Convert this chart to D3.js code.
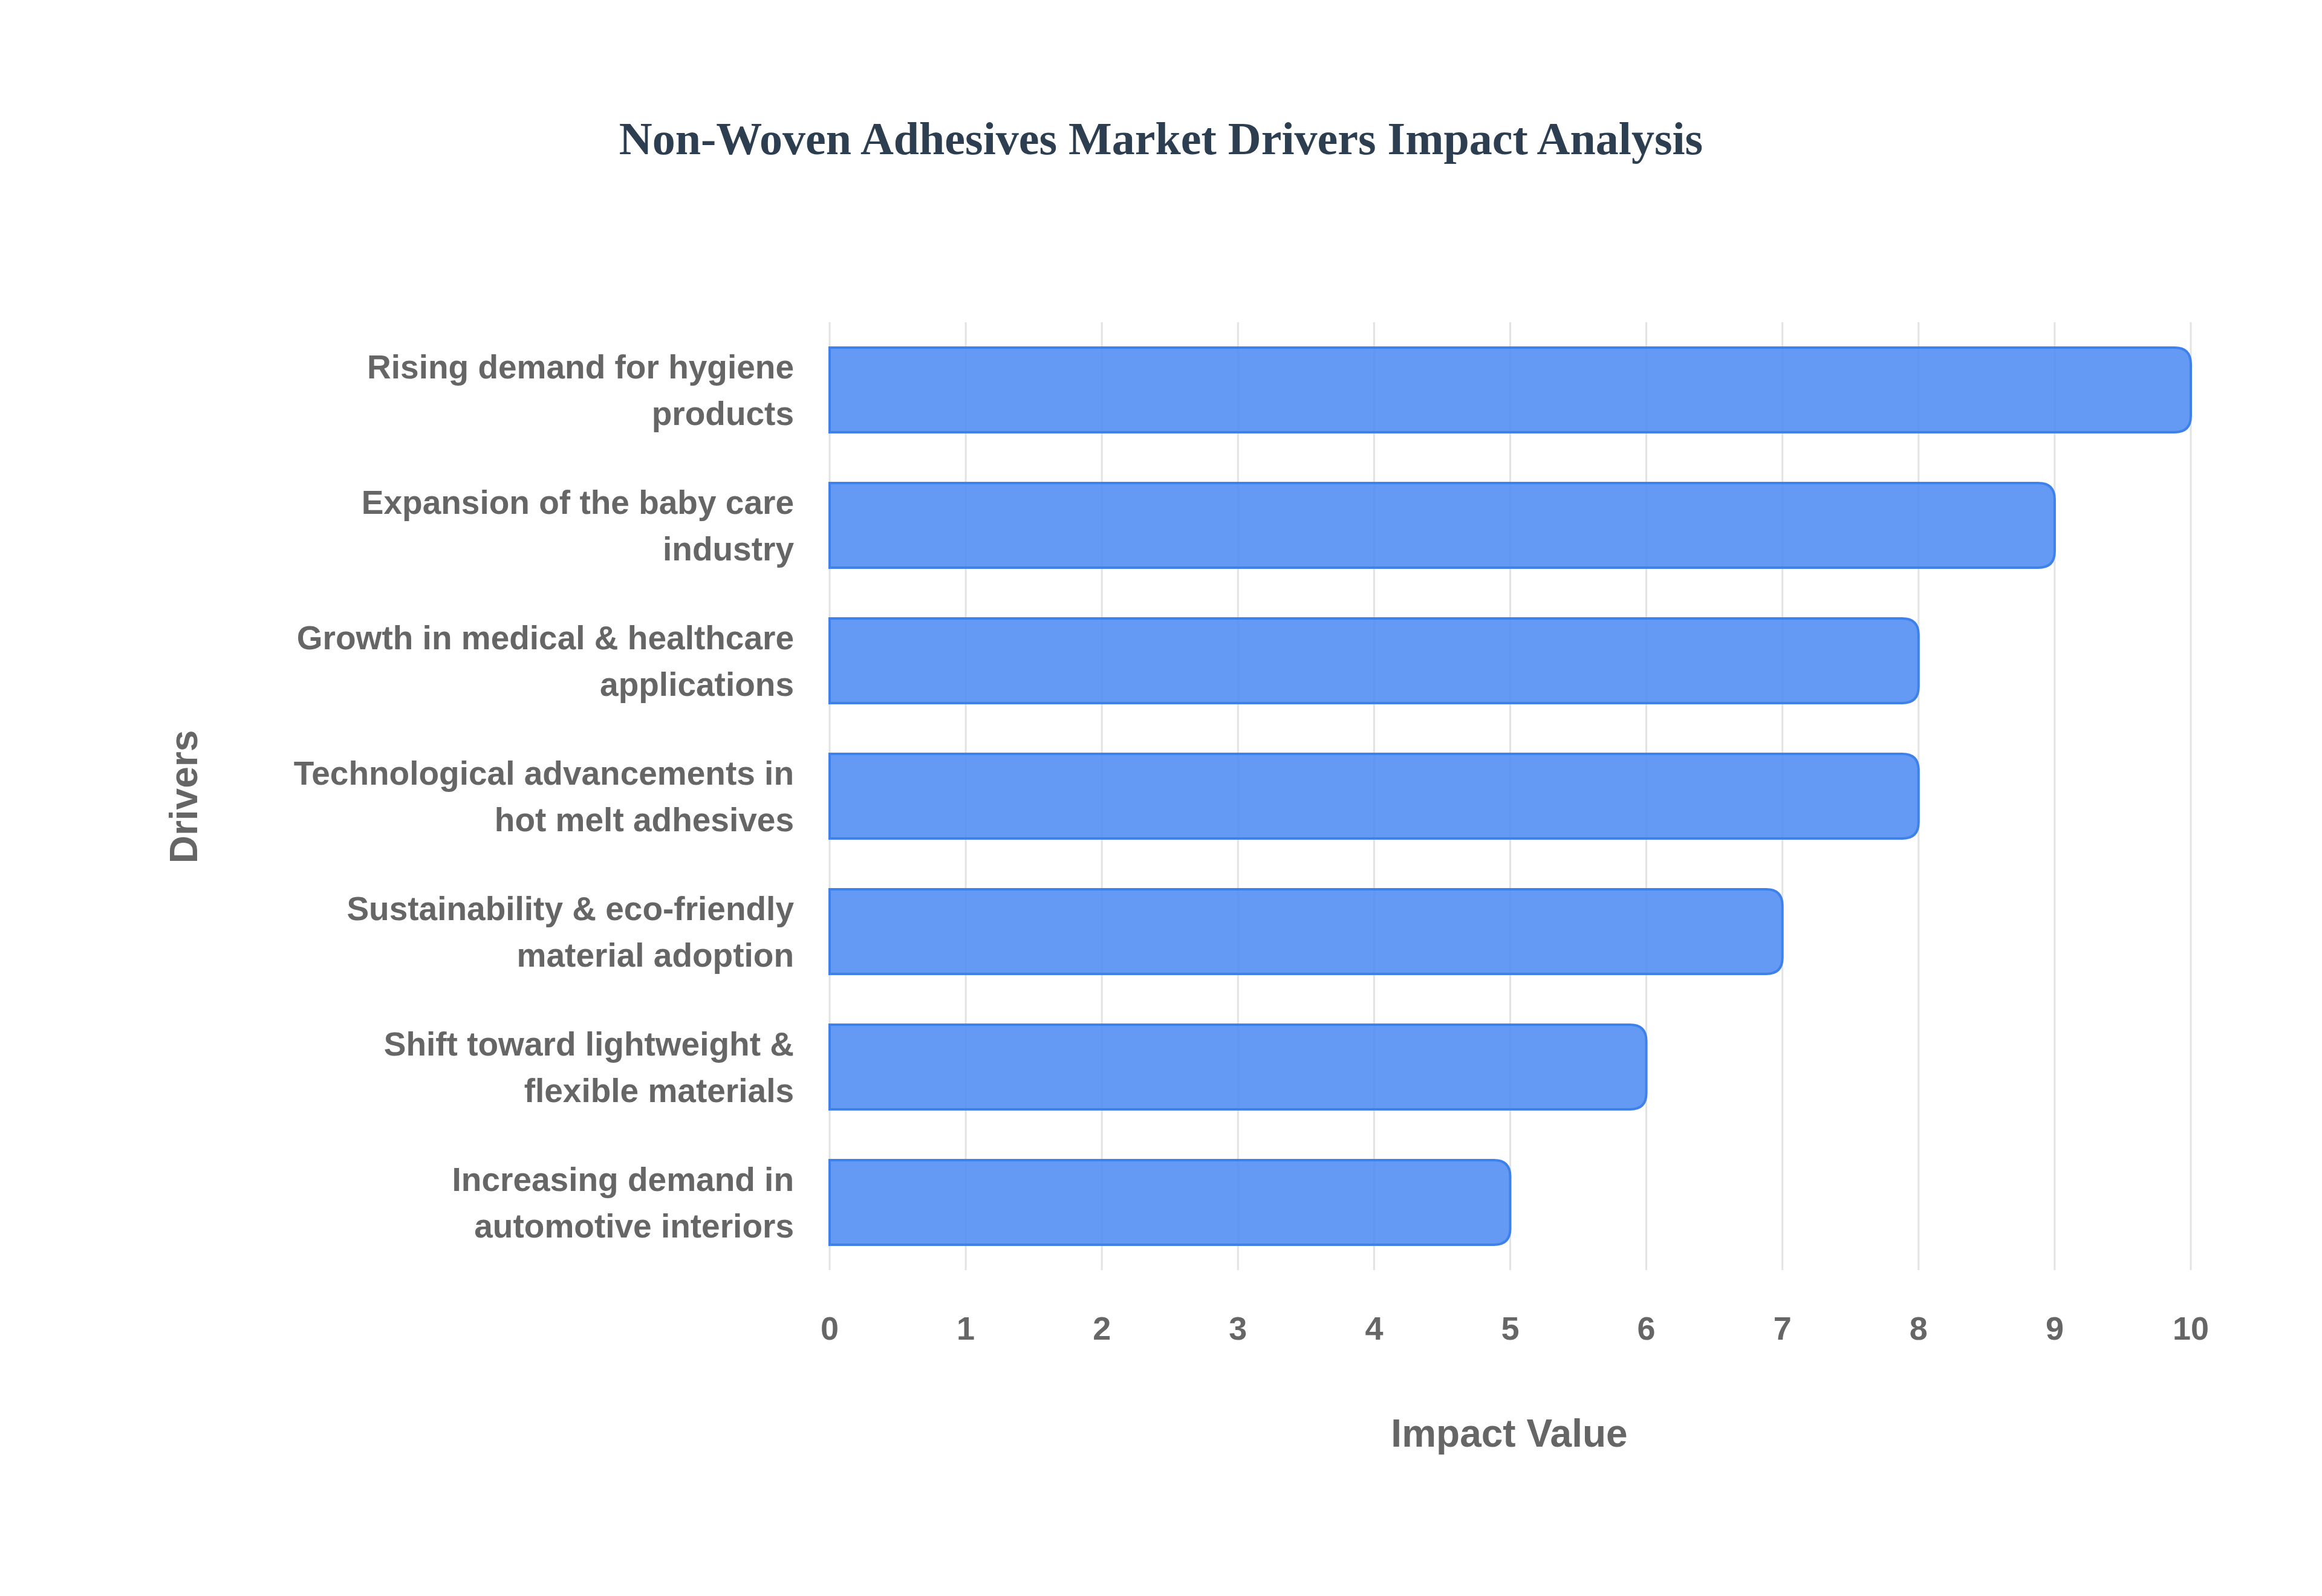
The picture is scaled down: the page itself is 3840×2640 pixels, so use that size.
<!DOCTYPE html>
<html><head><meta charset="utf-8">
<script src="https://cdn.jsdelivr.net/npm/d3@7"></script>
<style>body{margin:0;background:#fff}</style></head>
<body><svg id="c" width="3840" height="2640"></svg>
<script>
const drivers = [
  ["Rising demand for hygiene","products"],
  ["Expansion of the baby care","industry"],
  ["Growth in medical & healthcare","applications"],
  ["Technological advancements in","hot melt adhesives"],
  ["Sustainability & eco-friendly","material adoption"],
  ["Shift toward lightweight &","flexible materials"],
  ["Increasing demand in","automotive interiors"]
];
const values = [10, 9, 8, 8, 7, 6, 5];
const xTicks = [0,1,2,3,4,5,6,7,8,9,10];

const svg = d3.select("#c");
const L = 1372, R = 3623, T = 533, B = 2101;
const x = d3.scaleLinear().domain([0,10]).range([L,R]);
const y = d3.scaleBand().domain(d3.range(drivers.length)).range([T,B]).paddingInner(0.375).paddingOuter(0.1875);

svg.append("g").selectAll("line").data(xTicks).join("line")
  .attr("x1",d=>x(d)).attr("x2",d=>x(d)).attr("y1",T).attr("y2",B)
  .attr("stroke","#e3e3e3").attr("stroke-width",3);

const r = 27;
svg.append("g").selectAll("path").data(values).join("path")
  .attr("d",(v,i)=>{
    const x0=x(0), x1=x(v), y0=y(i), h=y.bandwidth();
    return `M${x0},${y0}H${x1-r}Q${x1},${y0} ${x1},${y0+r}V${y0+h-r}Q${x1},${y0+h} ${x1-r},${y0+h}H${x0}Z`;
  })
  .attr("fill","rgba(80,140,242,0.88)").attr("stroke","#3f81ea").attr("stroke-width",4);

const lab = svg.append("g").attr("font-family","Liberation Sans, Arial, sans-serif")
  .attr("font-weight","bold").attr("font-size",55).attr("fill","#666").attr("text-anchor","end");
drivers.forEach((d,i)=>{
  const cy = y(i)+y.bandwidth()/2;
  d.forEach((t,j)=>lab.append("text").attr("x",1313).attr("y",cy+(j-0.5)*77).attr("dy","0.35em").text(t));
});

svg.append("g").selectAll("text").data(xTicks).join("text")
  .attr("x",d=>x(d)).attr("y",2197).attr("dy","0.35em").attr("text-anchor","middle")
  .attr("font-family","Liberation Sans, Arial, sans-serif").attr("font-weight","bold")
  .attr("font-size",54).attr("fill","#666").text(d=>d);

svg.append("text").attr("x",2496).attr("y",2371).attr("dy","0.35em").attr("text-anchor","middle")
  .attr("font-family","Liberation Sans, Arial, sans-serif").attr("font-weight","bold")
  .attr("font-size",64).attr("fill","#666").text("Impact Value");
svg.append("text").attr("transform","translate(304,1318) rotate(-90)").attr("dy","0.35em").attr("text-anchor","middle")
  .attr("font-family","Liberation Sans, Arial, sans-serif").attr("font-weight","bold")
  .attr("font-size",64).attr("fill","#666").text("Drivers");
svg.append("text").attr("x",1920).attr("y",228).attr("dy","0.35em").attr("text-anchor","middle")
  .attr("font-family","Liberation Serif, Times New Roman, serif").attr("font-weight","bold")
  .attr("font-size",76).attr("fill","#2c3e50").text("Non-Woven Adhesives Market Drivers Impact Analysis");
</script></body></html>
